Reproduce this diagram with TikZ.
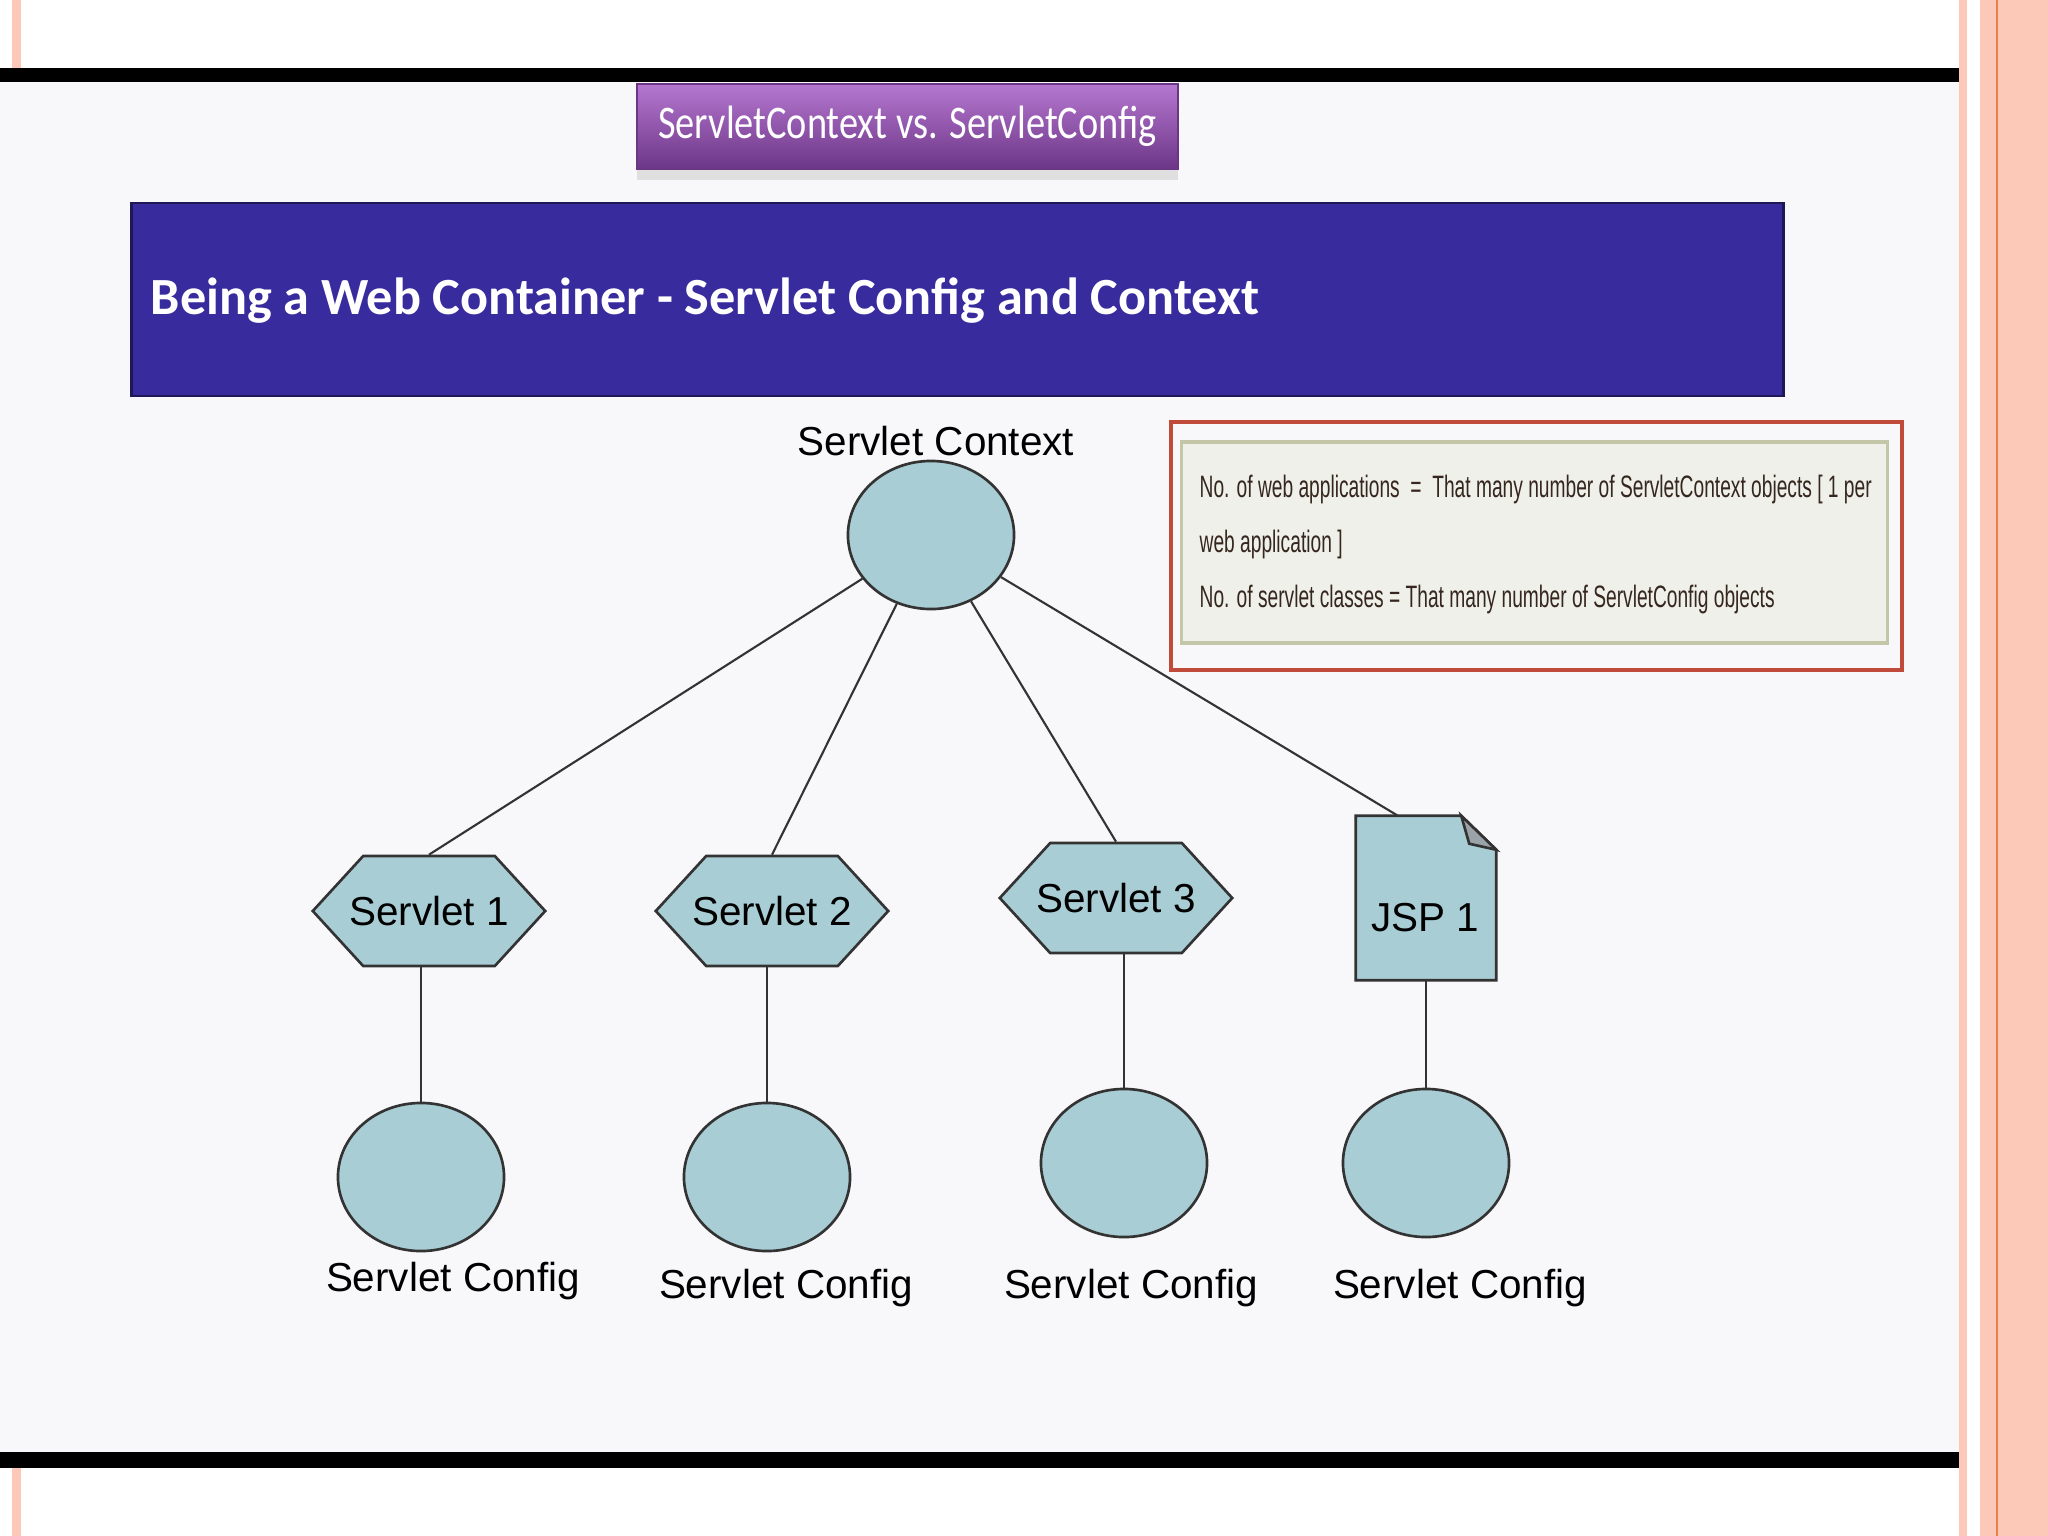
\documentclass[tikz,border=0pt]{standalone}
\usepackage{fontspec}
\setmainfont{Liberation Sans}
\newfontfamily\bannerfont{Carlito}
\newfontfamily\titlefont[FakeStretch=0.82]{Carlito}
\newfontfamily\notefont[FakeStretch=0.62]{Liberation Sans}
\usetikzlibrary{%
  calc,%
  shapes.geometric,%
  shapes.symbols,%
  shadows%
}
\definecolor{nodefill}{HTML}{A9CDD5}
\definecolor{edgegrey}{HTML}{333333}
\definecolor{slidebg}{HTML}{F8F7F9}
\definecolor{framepink}{HTML}{FCC8B8}
\definecolor{frameorange}{HTML}{EC7E4A}
\definecolor{bannerblue}{HTML}{382B9D}
\definecolor{bannerdark}{HTML}{1E1856}
\definecolor{btntop}{HTML}{B577D0}
\definecolor{btnbottom}{HTML}{6C3687}
\definecolor{notered}{HTML}{C04B3A}
\definecolor{noteinfill}{HTML}{EFF0EA}
\definecolor{noteinedge}{HTML}{C4C6A8}
\definecolor{notetextcol}{HTML}{35261E}
\definecolor{foldgrey}{HTML}{9AA3A8}
\tikzset{>=latex, wire/.style = {draw=edgegrey, line width=0.6pt},
  shapeline/.style = {draw=edgegrey, line width=0.75pt},
  bubble/.style = {ellipse, shapeline, fill=nodefill, inner sep=0pt,
    minimum width=1.66cm, minimum height=1.48cm},
  servlet/.style = {signal, signal to=east and west, signal pointer angle=95,
    shapeline, fill=nodefill, inner ysep=0pt, inner xsep=-0.14cm,
    minimum height=1.1cm, font=\fontsize{11.5}{14}\selectfont},
  docshape/.style = {rectangle, inner sep=0pt, minimum width=1.39cm, minimum height=1.63cm},
  caption/.style = {inner sep=0pt, font=\fontsize{11.5}{14}\selectfont},
  notetext/.style = {inner sep=0pt, anchor=base west, text=notetextcol,
    font=\notefont\fontsize{8.8}{10}\selectfont}}

\begin{document}
\begin{tikzpicture}[x=0.01cm,y=-0.01cm]
  \useasboundingbox (0,0) rectangle (2048,1536);
  % slide frame
  \fill[white] (0,0) rectangle (2048,1536);
  \fill[slidebg] (0,82) rectangle (1963,1452);
  \fill[black] (0,68) rectangle (1963,82);
  \fill[black] (0,1452) rectangle (1963,1468);
  \fill[framepink] (1959,0) rectangle (1967,1536);
  \fill[framepink] (1980,0) rectangle (2048,1536);
  \draw[frameorange,line width=0.4pt] (1997,0) -- (1997,1536);
  \fill[framepink] (12,0) rectangle (21,68);
  \fill[framepink] (12,1468) rectangle (21,1536);

  % headings
  \node[rectangle, top color=btntop, bottom color=btnbottom, draw=btnbottom,
    drop shadow={shadow xshift=0pt, shadow yshift=-3pt, opacity=0.2},
    minimum width=5.41cm, minimum height=0.85cm, inner sep=0pt,
    text=white, font=\titlefont\fontsize{13.3}{15}\selectfont]
    (title) at (907.5,126.5) {ServletContext vs. ServletConfig};
  \node[rectangle, fill=bannerblue, draw=bannerdark, line width=0.8pt,
    minimum width=16.51cm, minimum height=1.93cm] (banner) at (957.5,299.5) {};
  \node[inner sep=0pt, anchor=base west, text=white,
    font=\bannerfont\bfseries\fontsize{14.85}{17}\selectfont]
    (bannerlbl) at (150,314) {Being a Web Container - Servlet Config and Context};

  % tree
  \node[bubble] (ctx) at (931,535) {};
  \node[caption, anchor=base] (ctxlbl) at (936,455) {Servlet Context};
  \node[servlet] (s1) at (429,911) {Servlet 1};
  \node[servlet] (s2) at (772,911) {Servlet 2};
  \node[servlet] (s3) at (1116,898) {Servlet 3};
  \node[docshape] (jsp) at (1426,898) {};
  \draw[shapeline, fill=nodefill] (jsp.south west) -- (jsp.north west)
    -- ($(jsp.north east)+(-35,0)$) -- ($(jsp.north east)+(0,34)$)
    -- (jsp.south east) -- cycle;
  \draw[shapeline, fill=foldgrey] ($(jsp.north east)+(-35,0)$)
    -- ($(jsp.north east)+(-27,28)$) -- ($(jsp.north east)+(0,34)$) -- cycle;
  \node[caption] (jsplbl) at (1425,918) {JSP 1};

  \node[bubble] (c1) at (421,1177) {};
  \node[bubble] (c2) at (767,1177) {};
  \node[bubble] (c3) at (1124,1163) {};
  \node[bubble] (c4) at (1426,1163) {};
  \node[caption, anchor=base] (c1lbl) at (453,1291) {Servlet Config};
  \node[caption, anchor=base] (c2lbl) at (786,1298) {Servlet Config};
  \node[caption, anchor=base] (c3lbl) at (1131,1298) {Servlet Config};
  \node[caption, anchor=base] (c4lbl) at (1460,1298) {Servlet Config};

  \coordinate (jsptop) at ($(jsp.north west)!0.3!(jsp.north east)$);
  \draw[wire] (ctx) -- (s1.north);
  \draw[wire] (ctx) -- (s2.north);
  \draw[wire] (ctx) -- (s3.north);
  \draw[wire] (ctx) -- (jsptop);
  \foreach \s/\c in {s1/c1,s2/c2,s3/c3,jsp/c4}
    \draw[wire] (\c.north) -- (\c |- \s.south);

  % note
  \node[rectangle, draw=notered, line width=1.2pt, fill=slidebg,
    minimum width=7.31cm, minimum height=2.48cm] (note) at (1536.5,546) {};
  \node[rectangle, draw=noteinedge, line width=0.9pt, fill=noteinfill,
    minimum width=7.05cm, minimum height=2.01cm] (notein) at (1534.5,542.5) {};
  \node[notetext] (n1) at (1199,497)
    {No. of web applications\ \ =\ \ That many number of ServletContext objects [ 1 per};
  \node[notetext] (n2) at (1199,552) {web application ]};
  \node[notetext] (n3) at (1199,607)
    {No. of servlet classes = That many number of ServletConfig objects};
\end{tikzpicture}
\end{document}
